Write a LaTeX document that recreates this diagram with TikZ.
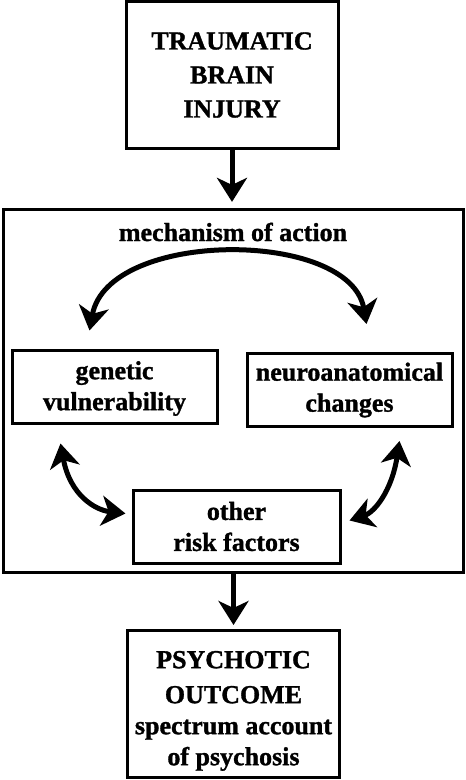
\documentclass[tikz,border=0pt]{standalone}
\usepackage{fontspec}
\setmainfont{Liberation Serif}[BoldFeatures={FakeBold=1.2}]
\usetikzlibrary{arrows.meta,calc}

\begin{document}
\begin{tikzpicture}[x=1pt,y=-1pt,
    box/.style={draw,line width=3pt,align=center,inner sep=0pt,
      font=\bfseries\fontsize{26}{31}\selectfont},
    bigbox/.style={box,minimum width=212pt,minimum height=147pt},
    smallbox/.style={box,minimum width=205pt,minimum height=73pt},
    head/.tip={Stealth[length=24pt,width=30pt,inset=7pt]},
    bigarr/.style={line width=5pt,-head},
    dblarr/.style={line width=5pt,head-head}]
  \useasboundingbox (0,0) rectangle (466,780);
  % outer boxes
  \node[bigbox,font=\bfseries\fontsize{26}{34}\selectfont] (tbi) at (232,75) {TRAUMATIC\\BRAIN\\INJURY};
  \node[draw,line width=3.2pt,minimum width=460pt,minimum height=363pt] (frame) at (233.5,391) {};
  \node[bigbox] (outcome) at (233.5,704) {\rule{0pt}{31pt}PSYCHOTIC\\[4pt]OUTCOME\\spectrum account\\of psychosis};
  \draw[bigarr,shorten >=6pt] (tbi.south) -- (tbi.south |- frame.north);
  \draw[bigarr,shorten >=4pt] (frame.south -| outcome.north) -- (outcome.north);
  % inside the frame
  \node[font=\bfseries\fontsize{26}{31}\selectfont,anchor=base] (mech) at (233,241) {mechanism of action};
  \node[smallbox] (gen) at (114.5,386.5) {\rule{0pt}{22pt}genetic\\vulnerability};
  \node[smallbox] (neuro) at (349.5,390) {neuroanatomical\\changes};
  \node[smallbox,minimum width=207pt] (other) at (236.5,526.5) {other\\risk factors};
  \coordinate (arcL) at ($(gen.north)+(-25,-18)$);
  \coordinate (arcR) at ($(neuro.north)+(17,-28)$);
  \draw[dblarr] (arcL) .. controls (108,229) and (350,229) .. (arcR);
  \coordinate (genB) at ($(gen.south)+(-54,19)$);
  \coordinate (othL) at ($(other.west)+(-6,-13)$);
  \draw[dblarr] (genB) .. controls (70,495) and (95,510) .. (othL);
  \coordinate (neuB) at ($(neuro.south)+(50,13)$);
  \coordinate (othR) at ($(other.east)+(8,-6)$);
  \draw[dblarr] (neuB) .. controls (392,490) and (375,512) .. (othR);
\end{tikzpicture}
\end{document}
